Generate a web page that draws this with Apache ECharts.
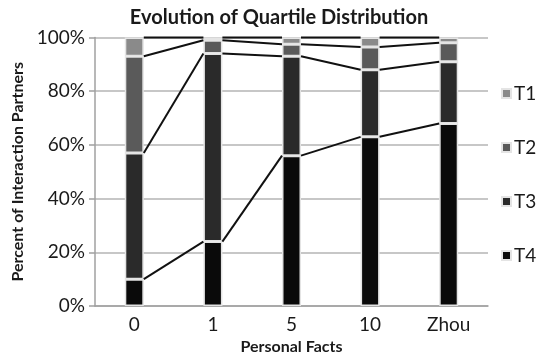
<!DOCTYPE html>
<html>
<head>
<meta charset="utf-8">
<script src="https://cdn.jsdelivr.net/npm/echarts@6/dist/echarts.min.js"></script>
<style>
  html, body { margin: 0; padding: 0; background: #fff; }
  #chart { width: 538px; height: 356px; }
</style>
</head>
<body>
<div id="chart"></div>
<script>
// categories
const categories = ['0', '1', '5', '10', 'Zhou']

// segment shares per quartile (percent), bottom to top
const t4 = [10, 24, 56, 63, 68]
const t3 = [47, 70, 37, 25, 23]
const t2 = [36, 5, 4.5, 8.5, 7]
const t1 = [7, 1, 2.5, 3.5, 2]

// y tick labels
const yTicks = [0, 20, 40, 60, 80, 100]

const BAR_W = 19
const FONT = 'Lato, "Open Sans", sans-serif'

// series colours
const colors = { T1: '#8a8a8a', T2: '#5a5a5a', T3: '#2a2a2a', T4: '#0a0a0a' }

// cumulative tops for the series lines
const stacks = [t4, t3, t2, t1]
const tops = []
let run = categories.map(() => 0)
stacks.forEach(s => {
  run = run.map((v, i) => v + s[i])
  tops.push(run.slice())
})

// line segments between neighbouring bars: [index, fromValue, toValue]
const connectorData = []
tops.forEach(level => {
  for (let i = 0; i < level.length - 1; i++) {
    connectorData.push([i, level[i], level[i + 1]])
  }
})

const barSeries = (name, data) => ({
  name: name,
  type: 'bar',
  stack: 'total',
  barWidth: BAR_W,
  data: data,
  itemStyle: {
    color: colors[name],
    borderColor: '#e4e4e4',
    borderWidth: 1.5
  },
  emphasis: { disabled: true }
})

const chart = echarts.init(document.getElementById('chart'))
chart.setOption({
  animation: false,
  title: {
    text: 'Evolution of Quartile Distribution',
    left: 274,
    textAlign: 'center',
    top: 3,
    textStyle: { fontFamily: FONT, fontSize: 20, fontWeight: 'bold', color: '#1a1a1a' }
  },
  legend: {
    orient: 'vertical',
    left: 496,
    top: 79,
    itemGap: 35,
    itemWidth: 9,
    itemHeight: 9,
    icon: 'rect',
    data: ['T1', 'T2', 'T3', 'T4'],
    textStyle: { fontFamily: FONT, fontSize: 19, color: '#1a1a1a', padding: [0, 0, 0, -2] }
  },
  grid: { left: 95, right: 50, top: 37.5, bottom: 50, outerBoundsMode: 'none' },
  xAxis: {
    type: 'category',
    data: categories,
    name: 'Personal Facts',
    nameLocation: 'middle',
    nameGap: 32,
    nameTextStyle: { fontFamily: FONT, fontSize: 16, fontWeight: 'bold', color: '#1a1a1a' },
    axisTick: { show: false },
    axisLine: { lineStyle: { color: '#a0a0a0', width: 1.5 } },
    axisLabel: { fontFamily: FONT, fontSize: 19, color: '#1a1a1a', margin: 9 }
  },
  yAxis: {
    type: 'value',
    min: yTicks[0],
    max: yTicks[yTicks.length - 1],
    interval: 20,
    name: 'Percent of Interaction Partners',
    nameLocation: 'middle',
    nameGap: 69,
    nameTextStyle: { fontFamily: FONT, fontSize: 16, fontWeight: 'bold', color: '#1a1a1a' },
    axisLine: { show: true, lineStyle: { color: '#a0a0a0', width: 1.5 } },
    axisTick: { show: true, length: 6, lineStyle: { color: '#a0a0a0', width: 1.5 } },
    axisLabel: { fontFamily: FONT, fontSize: 19, color: '#1a1a1a', margin: 10, formatter: '{value}%' },
    splitLine: { lineStyle: { color: '#b4b4b4', width: 1.5 } }
  },
  series: [
    barSeries('T4', t4),
    barSeries('T3', t3),
    barSeries('T2', t2),
    barSeries('T1', t1),
    {
      type: 'custom',
      silent: true,
      z: 5,
      data: connectorData,
      encode: { x: 0, y: [1, 2] },
      renderItem: (params, api) => {
        const i = api.value(0)
        const p0 = api.coord([i, api.value(1)])
        const p1 = api.coord([i + 1, api.value(2)])
        return {
          type: 'line',
          shape: { x1: p0[0] + BAR_W / 2, y1: p0[1], x2: p1[0] - BAR_W / 2, y2: p1[1] },
          style: { stroke: '#111', lineWidth: 2 }
        }
      }
    }
  ]
})
</script>
</body>
</html>
